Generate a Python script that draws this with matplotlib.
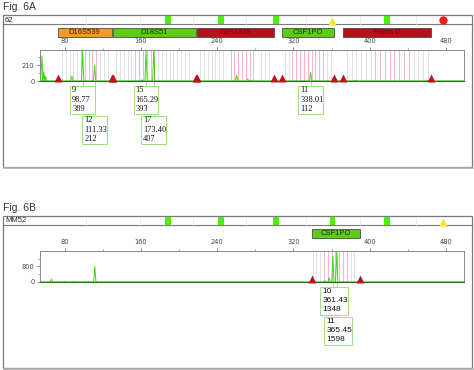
import matplotlib
matplotlib.use("Agg")
import matplotlib.pyplot as plt
from matplotlib.patches import Rectangle
from matplotlib.transforms import blended_transform_factory

# =============================================================================
# DATOS
# =============================================================================

W, H = 474, 370                       # tamaño de la figura en px
XMIN, XMAX = 54, 499                  # rango en pb del electroferograma

TICKS_BP = [80, 160, 240, 320, 400, 480]
MINOR_BP = [120, 200, 280, 360, 440]

# --- Fig. 6A ---
LOCI_A = ["D16S539", "D18S51", "D2S1338", "CSF1PO", "Penta D"]
LOCI_A_START = [72.6, 130.4, 218.6, 307.8, 371.9]
LOCI_A_END = [129.3, 217.5, 299.4, 362.4, 464.3]
LOCI_A_COLOR = ["#f29a2e", "#5ccc1c", "#b3121b", "#5ccc1c", "#b3121b"]
LOCI_A_TEXT = ["#3a2000", "#173800", "#6e0a0a", "#173800", "#6e0a0a"]

BINS_A_GRAY = [77, 81, 85, 89, 93, 117, 121, 125,
               134, 138, 142, 146, 150, 178, 182, 186, 190, 194, 198, 202, 206, 210,
               222, 226, 230, 234, 238, 242, 246, 286, 290, 294,
               311, 315, 355, 359,
               376, 381, 386, 391, 396, 401, 446, 451, 456, 461]
BINS_A_PINK = [97, 101, 105, 109, 113,
               154, 158, 162, 166, 170, 174,
               254, 258, 262, 266, 270, 274, 278,
               319, 323, 327, 331, 335, 339, 343, 347, 351,
               406, 411, 416, 421, 426, 431, 436, 441]

PEAKS_A_BP = [56, 58, 60, 87.5, 98.77, 111.33, 161, 165.29, 173.40,
              260.3, 272, 338.01, 385, 460]
PEAKS_A_RFU = [330, 120, 60, 65, 389, 212, 15, 393, 407,
               75, 25, 112, 10, 8]

CALLS_A_ALLELE = ["9", "12", "15", "17", "11"]
CALLS_A_SIZE = ["98.77", "111.33", "165.29", "173.40", "338.01"]
CALLS_A_RFU = ["389", "212", "393", "407", "112"]

HEADER_A_GREEN = [188, 244, 301.5, 418.4]
HEADER_A_YELLOW = [360]
HEADER_A_RED = [477.2]

# --- Fig. 6B ---
LOCI_B = ["CSF1PO"]
LOCI_B_START = [339.3]
LOCI_B_END = [389.7]
LOCI_B_COLOR = ["#5ccc1c"]
LOCI_B_TEXT = ["#173800"]

BINS_B_GRAY = [340, 344, 348, 380, 384]
BINS_B_PINK = [352, 356, 360, 364, 368, 372, 376]

PEAKS_B_BP = [66, 80, 90, 111.5, 353, 357.4, 361.43, 365.45]
PEAKS_B_RFU = [150, 20, 25, 810, 60, 220, 1348, 1598]

CALLS_B_ALLELE = ["10", "11"]
CALLS_B_SIZE = ["361.43", "365.45"]
CALLS_B_RFU = ["1348", "1598"]

HEADER_B_GREEN = [188, 244, 301.5, 361, 418.4]
HEADER_B_YELLOW = [477.2]
HEADER_B_RED = []

HEADER_DIVIDERS = [102, 158.7, 215, 270.5, 332.8, 389.6, 448.5]

SANS = "Liberation Sans"
SERIF = "Liberation Serif"
PEAK_GREEN = "#3fd415"

# =============================================================================
# FIGURA
# =============================================================================

fig = plt.figure(figsize=(W / 100, H / 100), dpi=100)

# eje de superposición: x en pb, y en px desde arriba
bp_per_px = (XMAX - XMIN) / 424
ov = fig.add_axes([0, 0, 1, 1], zorder=0)
ov.set_xlim(XMIN - 40 * bp_per_px, XMIN + (W - 40) * bp_per_px)
ov.set_ylim(H, 0)
ov.axis("off")
ov_fx = blended_transform_factory(ov.transAxes, ov.transData)


def trace(pos, rfu, w=1.2):
    xs, ys = [XMIN], [0]
    for p, h in sorted(zip(pos, rfu)):
        xs += [p - w, p, p + w]
        ys += [0, h, 0]
    xs.append(XMAX)
    ys.append(0)
    return xs, ys


def panel(top, label, tag, loci, l0, l1, lcol, ltxt, gray, pink,
          pk_bp, pk_rfu, alleles, sizes, rfus, g_marks, y_marks, r_marks,
          ymax, ytick, serif, box_w):
    y0 = top                     # borde superior del marco
    # título
    ov.text(3 / W, y0 - 8, label, transform=ov_fx, fontsize=7.5,
            family=SANS, color="#333333", va="center", ha="left")
    # marco exterior
    ov.add_patch(Rectangle((3 / W, y0), 469 / W, 152, transform=ov_fx,
                           fill=False, ec="#7a7a7a", lw=0.9))
    ov.plot([4 / W, 473 / W], [y0 + 153, y0 + 153], transform=ov_fx,
            color="#b0b0b0", lw=1.2)
    ov.plot([3 / W, 472 / W], [y0 + 9, y0 + 9], transform=ov_fx,
            color="#7a7a7a", lw=0.8)
    for d in HEADER_DIVIDERS:
        ov.plot([d, d], [y0 + 1, y0 + 9], color="#e4e4e4", lw=0.5)
    ov.text(5 / W, y0 + 5, tag, transform=ov_fx, fontsize=5.5,
            family=SANS, color="#222222", va="center", ha="left")
    for g in g_marks:
        ov.add_patch(Rectangle((g - 3, y0 + 1), 6, 7.5,
                               fc="#4def0f", ec="none"))
    for yv in y_marks:
        ov.plot(yv, y0 + 5.5, marker="^", ms=6, color="#f7e71c", mec="none")
    for r in r_marks:
        ov.plot(r, y0 + 5, marker="o", ms=6, color="#ee1c1c", mec="none")

    # barras de loci
    for name, a, b, c, t in zip(loci, l0, l1, lcol, ltxt):
        ov.add_patch(Rectangle((a, y0 + 13), b - a, 8.5, fc=c,
                               ec="#333333", lw=0.5))
        ov.text((a + b) / 2, y0 + 17.3, name, fontsize=5.5, family=SANS,
                color=t, ha="center", va="center")

    # electroferograma
    ax = fig.add_axes([40 / W, (H - (y0 + 66)) / H, 424 / W, 31 / H], zorder=2)
    ax.set_xlim(XMIN, XMAX)
    ax.set_ylim(0, ymax)
    for g in gray:
        ax.axvline(g, color="#dcdcdc", lw=0.6, zorder=1)
    for p in pink:
        ax.axvline(p, color="#f2b6cf", lw=0.7, zorder=1)
    xs, ys = trace(pk_bp, pk_rfu)
    ax.plot(xs, ys, color=PEAK_GREEN, lw=0.7, zorder=3)
    ax.axhline(0, color="#1f6b10", lw=1.0, zorder=4)
    edges = list(l0) + list(l1)
    ax.plot(edges, [0.09 * ymax] * len(edges), ls="none", marker="^",
            ms=5.2, color="#c01020", mec="none", zorder=5, clip_on=False)
    ax.xaxis.tick_top()
    ax.set_xticks(TICKS_BP)
    ax.set_xticks(MINOR_BP, minor=True)
    ax.set_yticks([0, ytick])
    ax.set_yticks([ytick / 2, ytick * 1.5], minor=True)
    ax.tick_params(axis="both", which="major", labelsize=4.8, length=2,
                   width=0.5, pad=2, colors="#555555", labelcolor="#444444")
    ax.tick_params(axis="both", which="minor", length=1.5, width=0.5,
                   colors="#777777")
    for s in ax.spines.values():
        s.set_color("#8a8a8a")
        s.set_linewidth(0.7)
    ax.spines["bottom"].set_color("#1f6b10")

    # cajas de alelos
    fam = SERIF if serif else SANS
    last_px, row = -100, 0
    for al, sz, rf, p in zip(alleles, sizes, rfus, [float(s) for s in sizes]):
        row = 1 if (p - last_px) < 20 and row == 0 else 0
        last_px = p
        btop = y0 + 71 + row * 30
        ov.plot([p, p], [y0 + 66, btop], color="#9fe07f", lw=0.6, zorder=1)
        ov.add_patch(Rectangle((p - 12.5 * bp_per_px, btop), box_w * bp_per_px,
                               27.5, fc="white", ec="#9fe07f", lw=0.7, zorder=2))
        for k, txt in enumerate([al, sz, rf]):
            ov.text(p - 10.5 * bp_per_px, btop + 4.5 + k * 9.2, txt,
                    fontsize=6, family=fam, color="#111111",
                    ha="left", va="center", zorder=3)
    return ax


panel(15, "Fig. 6A", "62", LOCI_A, LOCI_A_START, LOCI_A_END, LOCI_A_COLOR,
      LOCI_A_TEXT, BINS_A_GRAY, BINS_A_PINK, PEAKS_A_BP, PEAKS_A_RFU,
      CALLS_A_ALLELE, CALLS_A_SIZE, CALLS_A_RFU,
      HEADER_A_GREEN, HEADER_A_YELLOW, HEADER_A_RED,
      407, 210, True, 24.5)

panel(216, "Fig. 6B", "MM52", LOCI_B, LOCI_B_START, LOCI_B_END, LOCI_B_COLOR,
      LOCI_B_TEXT, BINS_B_GRAY, BINS_B_PINK, PEAKS_B_BP, PEAKS_B_RFU,
      CALLS_B_ALLELE, CALLS_B_SIZE, CALLS_B_RFU,
      HEADER_B_GREEN, HEADER_B_YELLOW, HEADER_B_RED,
      1598, 800, False, 27.5)

fig.savefig("out.png", dpi=100, facecolor="white")
